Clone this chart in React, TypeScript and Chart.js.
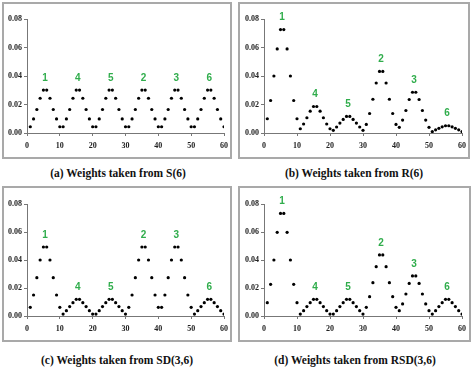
import React, { useEffect, useRef } from "react";
import { Chart, registerables } from "chart.js";

Chart.register(...registerables);

const positions = Array.from({ length: 60 }, (_, i) => i + 1);

const weightsS = [
  0.0044, 0.0099, 0.0165, 0.0244, 0.0301, 0.0301, 0.0244, 0.0165, 0.0099, 0.0044,
  0.0044, 0.0099, 0.0165, 0.0244, 0.0301, 0.0301, 0.0244, 0.0165, 0.0099, 0.0044,
  0.0044, 0.0099, 0.0165, 0.0244, 0.0301, 0.0301, 0.0244, 0.0165, 0.0099, 0.0044,
  0.0044, 0.0099, 0.0165, 0.0244, 0.0301, 0.0301, 0.0244, 0.0165, 0.0099, 0.0044,
  0.0044, 0.0099, 0.0165, 0.0244, 0.0301, 0.0301, 0.0244, 0.0165, 0.0099, 0.0044,
  0.0044, 0.0099, 0.0165, 0.0244, 0.0301, 0.0301, 0.0244, 0.0165, 0.0099, 0.0044,
];

const weightsR = [
  0.0100, 0.0228, 0.0400, 0.0590, 0.0726, 0.0726, 0.0590, 0.0400, 0.0228, 0.0100,
  0.0030, 0.0063, 0.0107, 0.0153, 0.0186, 0.0186, 0.0153, 0.0107, 0.0063, 0.0030,
  0.0019, 0.0042, 0.0070, 0.0095, 0.0116, 0.0116, 0.0095, 0.0070, 0.0042, 0.0019,
  0.0060, 0.0137, 0.0237, 0.0351, 0.0432, 0.0432, 0.0351, 0.0237, 0.0137, 0.0060,
  0.0040, 0.0091, 0.0158, 0.0235, 0.0286, 0.0286, 0.0235, 0.0158, 0.0091, 0.0040,
  0.0010, 0.0022, 0.0033, 0.0043, 0.0051, 0.0051, 0.0043, 0.0033, 0.0022, 0.0010,
];

const weightsSD = [
  0.0062, 0.0150, 0.0274, 0.0400, 0.0493, 0.0493, 0.0400, 0.0274, 0.0150, 0.0062,
  0.0014, 0.0038, 0.0067, 0.0095, 0.0119, 0.0119, 0.0095, 0.0067, 0.0038, 0.0014,
  0.0014, 0.0038, 0.0067, 0.0095, 0.0119, 0.0119, 0.0095, 0.0067, 0.0038, 0.0014,
  0.0062, 0.0150, 0.0274, 0.0400, 0.0493, 0.0493, 0.0400, 0.0274, 0.0150, 0.0062,
  0.0062, 0.0150, 0.0274, 0.0400, 0.0493, 0.0493, 0.0400, 0.0274, 0.0150, 0.0062,
  0.0014, 0.0038, 0.0067, 0.0095, 0.0119, 0.0119, 0.0095, 0.0067, 0.0038, 0.0014,
];

const weightsRSD = [
  0.0095, 0.0226, 0.0400, 0.0598, 0.0733, 0.0733, 0.0598, 0.0400, 0.0226, 0.0095,
  0.0014, 0.0038, 0.0067, 0.0095, 0.0119, 0.0119, 0.0095, 0.0067, 0.0038, 0.0014,
  0.0014, 0.0038, 0.0067, 0.0095, 0.0119, 0.0119, 0.0095, 0.0067, 0.0038, 0.0014,
  0.0062, 0.0138, 0.0238, 0.0352, 0.0436, 0.0436, 0.0352, 0.0238, 0.0138, 0.0062,
  0.0038, 0.0086, 0.0157, 0.0233, 0.0286, 0.0286, 0.0233, 0.0157, 0.0086, 0.0038,
  0.0014, 0.0038, 0.0067, 0.0095, 0.0119, 0.0119, 0.0095, 0.0067, 0.0038, 0.0014,
];

const rankLabels = ["1", "4", "5", "2", "3", "6"];
const yTicks = [0, 0.02, 0.04, 0.06, 0.08];
const xTicks = [0, 10, 20, 30, 40, 50, 60];

const captions = [
  "(a) Weights taken from S(6)",
  "(b) Weights taken from R(6)",
  "(c) Weights taken from SD(3,6)",
  "(d) Weights taken from RSD(3,6)",
];

type Panel = {
  values: number[];
  caption: string;
  box: { left: number; top: number; right: number; bottom: number };
  axisX: number;
  x60: number;
  yTop: number;
  y0: number;
  capX: number;
  capY: number;
};

const panels: Panel[] = [
  { values: weightsS, caption: captions[0], box: { left: 3, top: 3, right: 233, bottom: 160 }, axisX: 27, x60: 225, yTop: 19, y0: 133, capX: 118, capY: 173 },
  { values: weightsR, caption: captions[1], box: { left: 239, top: 3, right: 471, bottom: 160 }, axisX: 264, x60: 462, yTop: 19, y0: 133, capX: 354, capY: 173 },
  { values: weightsSD, caption: captions[2], box: { left: 3, top: 187, right: 233, bottom: 343 }, axisX: 27, x60: 225, yTop: 204, y0: 316, capX: 117, capY: 360 },
  { values: weightsRSD, caption: captions[3], box: { left: 239, top: 187, right: 472, bottom: 343 }, axisX: 264, x60: 462, yTop: 204, y0: 316, capX: 355, capY: 360 },
];

const rankPlugin = {
  id: "rankLabels",
  afterDatasetsDraw(chart: any) {
    const ctx = chart.ctx;
    const xs = chart.scales.x;
    const ys = chart.scales.y;
    const vals: number[] = chart.data.datasets[0].data.map((d: any) => d.y);
    const px: number[] = chart.data.datasets[0].data.map((d: any) => d.x);
    ctx.save();
    ctx.fillStyle = "#30ad4c";
    ctx.font = "bold 10px 'Liberation Sans', Arial, sans-serif";
    ctx.textAlign = "center";
    ctx.textBaseline = "middle";
    rankLabels.forEach((lab, g) => {
      const gv = vals.slice(g * 10, g * 10 + 10);
      const gx = px.slice(g * 10, g * 10 + 10);
      const peak = Math.max(...gv);
      const cx = gx.reduce((a, b) => a + b, 0) / gx.length;
      ctx.fillText(lab, xs.getPixelForValue(cx), ys.getPixelForValue(peak) - 12);
    });
    ctx.restore();
  },
};

const tickFont = { family: "'Liberation Serif', 'Times New Roman', serif", size: 8, weight: "bold" as const };

function PanelChart({ p }: { p: Panel }) {
  const ref = useRef<HTMLCanvasElement | null>(null);
  const w = p.box.right - p.box.left;
  const h = p.box.bottom - p.box.top;
  useEffect(() => {
    if (!ref.current) return;
    const yAxisW = p.axisX - p.box.left;
    const xAxisH = p.box.bottom - p.y0;
    const chart = new Chart(ref.current, {
      type: "scatter",
      data: {
        datasets: [
          {
            data: positions.map((x, i) => ({ x, y: p.values[i] })),
            pointRadius: 1.6,
            pointBackgroundColor: "#000",
            pointBorderWidth: 0,
            showLine: false,
          },
        ],
      },
      options: {
        animation: false,
        responsive: false,
        devicePixelRatio: 1,
        layout: { padding: { left: 0, top: p.yTop - p.box.top, right: p.box.left + w - p.x60, bottom: 0 } },
        plugins: { legend: { display: false }, tooltip: { enabled: false }, title: { display: false } },
        scales: {
          x: {
            type: "linear",
            min: 0,
            max: 60,
            afterFit: (s: any) => { s.height = xAxisH; },
            afterBuildTicks: (s: any) => { s.ticks = xTicks.map((v) => ({ value: v })); },
            grid: { display: true, drawOnChartArea: false, drawTicks: true, tickLength: 3, color: "#777", lineWidth: 1 },
            border: { display: true, color: "#777", width: 1 },
            ticks: { font: tickFont, color: "#222", padding: 5, maxRotation: 0, autoSkip: false },
          },
          y: {
            type: "linear",
            min: 0,
            max: 0.08,
            afterFit: (s: any) => { s.width = yAxisW; },
            afterBuildTicks: (s: any) => { s.ticks = yTicks.map((v) => ({ value: v })); },
            grid: { display: true, drawOnChartArea: false, drawTicks: true, tickLength: 3, color: "#777", lineWidth: 1 },
            border: { display: true, color: "#777", width: 1 },
            ticks: {
              font: tickFont,
              color: "#222",
              padding: 2,
              callback: (v: any) => Number(v).toFixed(2),
            },
          },
        },
      },
      plugins: [rankPlugin],
    });
    return () => chart.destroy();
  }, []);
  return (
    <>
      <div
        style={{
          position: "absolute",
          left: p.box.left - 1,
          top: p.box.top - 1,
          width: w,
          height: h,
          border: "2px solid #a9a9a9",
          boxSizing: "border-box",
        }}
      />
      <canvas
        ref={ref}
        width={w}
        height={h}
        style={{ position: "absolute", left: p.box.left, top: p.box.top, width: w, height: h }}
      />
      <div
        style={{
          position: "absolute",
          left: p.capX - 120,
          width: 240,
          top: p.capY - 8,
          height: 16,
          lineHeight: "16px",
          textAlign: "center",
          fontFamily: "'Liberation Serif', 'Times New Roman', serif",
          fontWeight: "bold",
          fontSize: "11.5px",
          color: "#111",
          whiteSpace: "nowrap",
        }}
      >
        {p.caption}
      </div>
    </>
  );
}

export default function App() {
  return (
    <div style={{ position: "fixed", left: 0, top: 0, width: 474, height: 376, background: "#fff", overflow: "hidden" }}>
      {panels.map((p, i) => (
        <PanelChart key={i} p={p} />
      ))}
    </div>
  );
}
